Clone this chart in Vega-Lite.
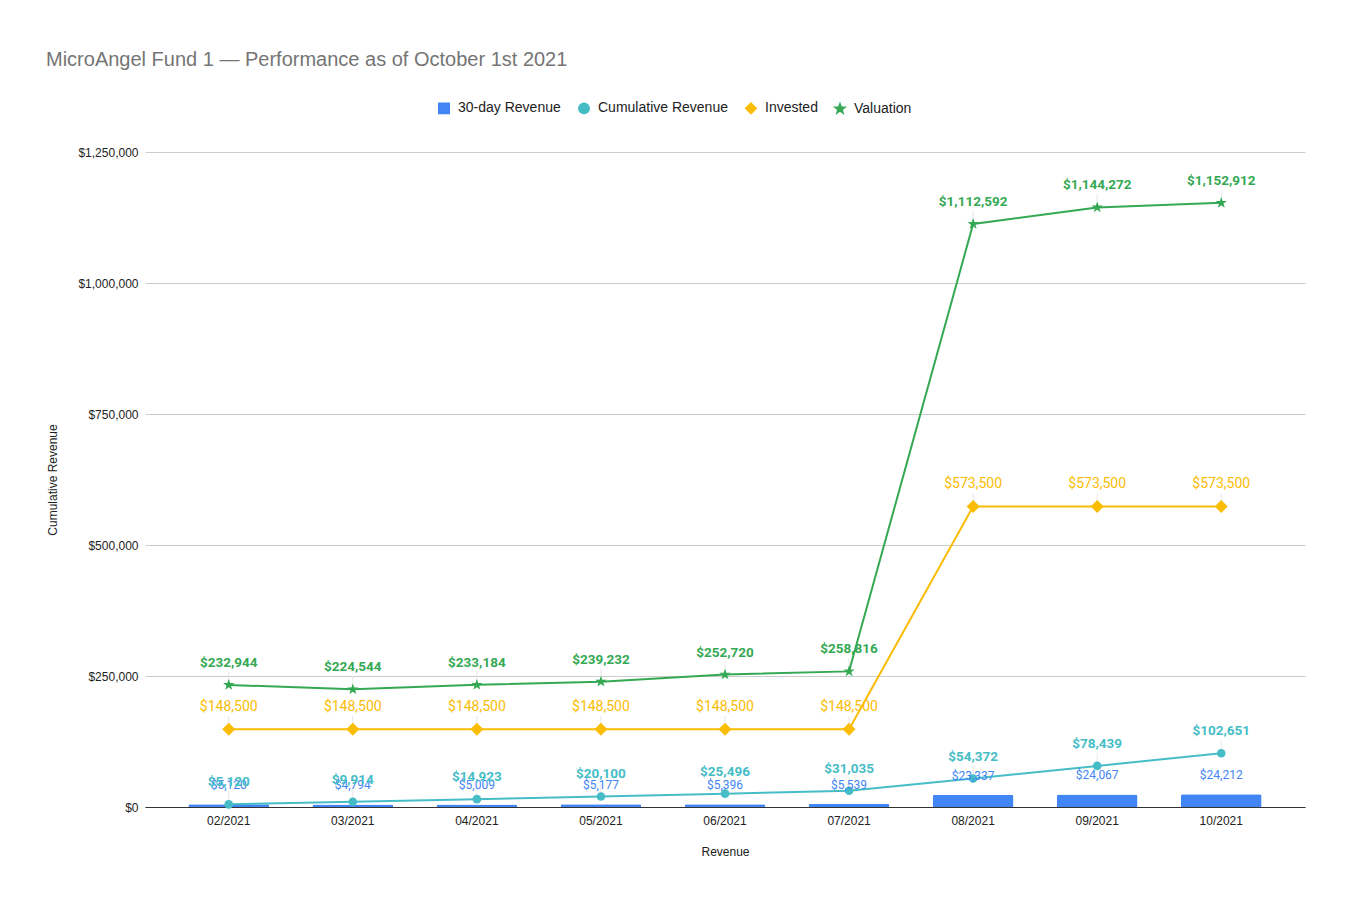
{
  "$schema": "https://vega.github.io/schema/vega-lite/v6.json",
  "width": 1160,
  "height": 655,
  "autosize": "none",
  "padding": {"left": 145, "top": 152, "right": 46, "bottom": 98},
  "background": "white",
  "title": {
    "text": "MicroAngel Fund 1 — Performance as of October 1st 2021",
    "anchor": "start", "frame": "group", "dx": -99, "offset": 31,
    "font": "Liberation Sans", "fontSize": 20, "fontWeight": "normal", "color": "#757575"
  },
  "config": {
    "font": "Roboto",
    "view": {"stroke": null},
    "axis": {"labelFont": "Liberation Sans", "titleFont": "Liberation Sans", "labelColor": "#222222", "titleColor": "#222222", "titleFontWeight": "normal", "ticks": false}
  },
  "data": {
    "values": [
      {"month": "02/2021", "series": "30-day Revenue", "value": 5120},
      {"month": "03/2021", "series": "30-day Revenue", "value": 4794},
      {"month": "04/2021", "series": "30-day Revenue", "value": 5009},
      {"month": "05/2021", "series": "30-day Revenue", "value": 5177},
      {"month": "06/2021", "series": "30-day Revenue", "value": 5396},
      {"month": "07/2021", "series": "30-day Revenue", "value": 5539},
      {"month": "08/2021", "series": "30-day Revenue", "value": 23337},
      {"month": "09/2021", "series": "30-day Revenue", "value": 24067},
      {"month": "10/2021", "series": "30-day Revenue", "value": 24212},
      {"month": "02/2021", "series": "Cumulative Revenue", "value": 5120},
      {"month": "03/2021", "series": "Cumulative Revenue", "value": 9914},
      {"month": "04/2021", "series": "Cumulative Revenue", "value": 14923},
      {"month": "05/2021", "series": "Cumulative Revenue", "value": 20100},
      {"month": "06/2021", "series": "Cumulative Revenue", "value": 25496},
      {"month": "07/2021", "series": "Cumulative Revenue", "value": 31035},
      {"month": "08/2021", "series": "Cumulative Revenue", "value": 54372},
      {"month": "09/2021", "series": "Cumulative Revenue", "value": 78439},
      {"month": "10/2021", "series": "Cumulative Revenue", "value": 102651},
      {"month": "02/2021", "series": "Invested", "value": 148500},
      {"month": "03/2021", "series": "Invested", "value": 148500},
      {"month": "04/2021", "series": "Invested", "value": 148500},
      {"month": "05/2021", "series": "Invested", "value": 148500},
      {"month": "06/2021", "series": "Invested", "value": 148500},
      {"month": "07/2021", "series": "Invested", "value": 148500},
      {"month": "08/2021", "series": "Invested", "value": 573500},
      {"month": "09/2021", "series": "Invested", "value": 573500},
      {"month": "10/2021", "series": "Invested", "value": 573500},
      {"month": "02/2021", "series": "Valuation", "value": 232944},
      {"month": "03/2021", "series": "Valuation", "value": 224544},
      {"month": "04/2021", "series": "Valuation", "value": 233184},
      {"month": "05/2021", "series": "Valuation", "value": 239232},
      {"month": "06/2021", "series": "Valuation", "value": 252720},
      {"month": "07/2021", "series": "Valuation", "value": 258816},
      {"month": "08/2021", "series": "Valuation", "value": 1112592},
      {"month": "09/2021", "series": "Valuation", "value": 1144272},
      {"month": "10/2021", "series": "Valuation", "value": 1152912}
    ]
  },
  "encoding": {
    "x": {
      "field": "month", "type": "ordinal", "title": "Revenue",
      "scale": {"paddingInner": 0.35, "paddingOuter": 0.35},
      "axis": {"labelAngle": 0, "labelFontSize": 12, "labelPadding": 8, "titleFontSize": 12, "titlePadding": 20, "domainColor": "#333333", "grid": false}
    },
    "y": {
      "field": "value", "type": "quantitative", "title": "Cumulative Revenue",
      "scale": {"domain": [0, 1250000]},
      "axis": {"values": [0, 250000, 500000, 750000, 1000000, 1250000], "format": "$,.0f", "labelFontSize": 12, "labelPadding": 7, "titleFontSize": 12, "titlePadding": 18, "domain": false, "gridColor": "#cccccc"}
    },
    "color": {
      "field": "series", "type": "nominal",
      "scale": {"domain": ["30-day Revenue", "Cumulative Revenue", "Invested", "Valuation"], "range": ["#4285f4", "#46bdc6", "#fbbc04", "#34a853"]},
      "legend": {
        "title": null, "orient": "none", "direction": "horizontal", "legendX": 292, "legendY": -51,
        "labelFont": "Liberation Sans", "labelFontSize": 14, "labelColor": "#222222", "symbolSize": 110, "columnPadding": 14, "labelOffset": 7
      }
    }
  },
  "layer": [
    {
      "transform": [{"filter": "datum.series === '30-day Revenue'"}],
      "mark": {"type": "bar", "cornerRadiusTopLeft": 2, "cornerRadiusTopRight": 2}
    },
    {
      "transform": [{"filter": "datum.series !== '30-day Revenue'"}],
      "mark": {"type": "rule", "y2Offset": -13, "color": "#e6e6e6", "strokeWidth": 1},
      "encoding": {"y2": {"field": "value"}, "color": {"value": "#e6e6e6"}}
    },
    {
      "transform": [{"filter": "datum.series !== '30-day Revenue'"}],
      "mark": {"type": "line", "strokeWidth": 2}
    },
    {
      "transform": [{"filter": "datum.series === 'Cumulative Revenue'"}],
      "mark": {"type": "point", "filled": true, "size": 75, "opacity": 1},
      "encoding": {
        "shape": {
          "field": "series", "type": "nominal",
          "scale": {"domain": ["30-day Revenue", "Cumulative Revenue", "Invested", "Valuation"], "range": ["square", "circle", "diamond", "M0,-1L0.235,-0.324L0.951,-0.309L0.38,0.124L0.588,0.809L0,0.4L-0.588,0.809L-0.38,0.124L-0.951,-0.309L-0.235,-0.324Z"]}
        }
      }
    },
    {
      "transform": [{"filter": "datum.series === 'Invested'"}],
      "mark": {"type": "point", "filled": true, "size": 170, "opacity": 1},
      "encoding": {"shape": {"field": "series", "type": "nominal"}}
    },
    {
      "transform": [{"filter": "datum.series === 'Valuation'"}],
      "mark": {"type": "point", "filled": true, "size": 140, "opacity": 1},
      "encoding": {"shape": {"field": "series", "type": "nominal"}}
    },
    {
      "transform": [{"filter": "datum.series === '30-day Revenue'"}],
      "mark": {"type": "text", "dy": -19, "fontSize": 12, "fontWeight": "normal"},
      "encoding": {"text": {"field": "value", "type": "quantitative", "format": "$,.0f"}}
    },
    {
      "transform": [{"filter": "datum.series === 'Invested'"}],
      "mark": {"type": "text", "dy": -22, "fontSize": 14, "fontWeight": "normal"},
      "encoding": {"text": {"field": "value", "type": "quantitative", "format": "$,.0f"}}
    },
    {
      "transform": [{"filter": "datum.series === 'Cumulative Revenue' || datum.series === 'Valuation'"}],
      "mark": {"type": "text", "dy": -22, "fontSize": 13.5, "fontWeight": "bold"},
      "encoding": {"text": {"field": "value", "type": "quantitative", "format": "$,.0f"}}
    }
  ]
}
